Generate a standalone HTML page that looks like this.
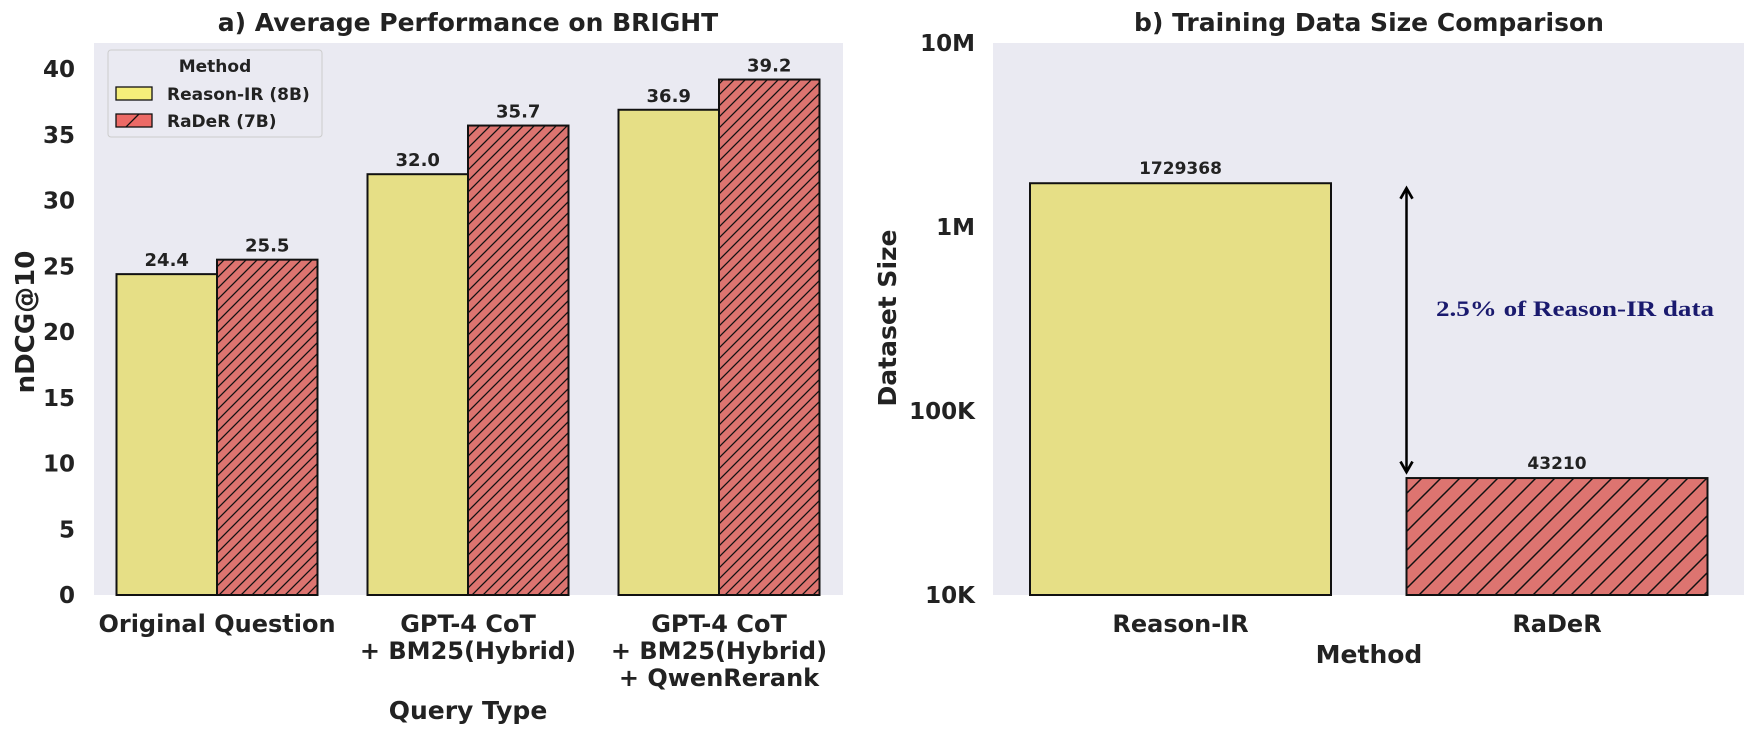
<!DOCTYPE html>
<html><head><meta charset="utf-8"><style>
html,body{margin:0;padding:0;background:#fff;}
svg{display:block;font-family:"DejaVu Sans","Liberation Sans",sans-serif;font-weight:bold;}
</style></head><body>
<svg id="chart" width="1754" height="732" viewBox="0 0 1754 732" xmlns="http://www.w3.org/2000/svg">
<defs>
<pattern id="hatchA" patternUnits="userSpaceOnUse" width="11" height="11"><rect width="11" height="11" fill="#dd7470"/><path d="M-1,12 L12,-1 M-3,3 L3,-3 M8,14 L14,8" stroke="#111" stroke-width="1.3"/></pattern>
<pattern id="hatchB" patternUnits="userSpaceOnUse" width="19" height="19"><rect width="19" height="19" fill="#dd7470"/><path d="M-1,20 L20,-1 M-3,3 L3,-3 M16,22 L22,16" stroke="#111" stroke-width="1.5"/></pattern>
<marker id="arrowHead" viewBox="0 0 10 10" refX="8" refY="5" markerWidth="6" markerHeight="6" orient="auto-start-reverse"><path d="M1,1 L8,5 L1,9" fill="none" stroke="#000" stroke-width="1.8"/></marker>
</defs>
<g id="left"></g>
<g id="right"></g>
</svg>
<script>
const categories = ["Original Question", "GPT-4 CoT|+ BM25(Hybrid)", "GPT-4 CoT|+ BM25(Hybrid)|+ QwenRerank"];
const reasonIR = [24.4, 32.0, 36.9];
const rader = [25.5, 35.7, 39.2];
const yTicksA = [0, 5, 10, 15, 20, 25, 30, 35, 40];
const methodsB = ["Reason-IR", "RaDeR"];
const sizesB = [1729368, 43210];
const yTicksB = [10000, 100000, 1000000, 10000000];
const yTickLabelsB = ["10K", "100K", "1M", "10M"];

const NS = "http://www.w3.org/2000/svg";
function mk(parent, tag, attrs, text){
  const e = document.createElementNS(NS, tag);
  for (const k in attrs) e.setAttribute(k, attrs[k]);
  if (text !== undefined) e.textContent = text;
  parent.appendChild(e);
  return e;
}
const L = document.getElementById('left');
const R = document.getElementById('right');

// ---------- Left panel ----------
const ax = {x0:94, x1:843, y0:43, y1:595};
const yA = v => 595 - v * (595 - 69) / 40;
const xA = i => 217 + i * 251;
let bg = mk(L, 'rect', {x:ax.x0, y:ax.y0, width:ax.x1-ax.x0, height:ax.y1-ax.y0, fill:'#eaeaf2'});


let t = mk(L, 'text', {x:468, y:31, 'text-anchor':'middle', 'font-size':'25', fill:'#222'}, 'a) Average Performance on BRIGHT');


yTicksA.forEach(v => {
  const e = mk(L, 'text', {x:75, y:yA(v)+8, 'text-anchor':'end', 'font-size':'23', fill:'#222'}, String(v));
  
  
});
t = mk(L, 'text', {transform:'translate(34,322) rotate(-90)', 'text-anchor':'middle', 'font-size':'26', fill:'#222'}, 'nDCG@10');


categories.forEach((c, i) => {
  const lines = c.split('|');
  lines.forEach((ln, j) => {
    const e = mk(L, 'text', {x:xA(i), y:632 + j*27, 'text-anchor':'middle', 'font-size':'24', fill:'#222'}, ln);
    
    
  });
});
t = mk(L, 'text', {x:468, y:719, 'text-anchor':'middle', 'font-size':'25', fill:'#222'}, 'Query Type');


const bw = 100.5;
reasonIR.forEach((v, i) => {
  const b = mk(L, 'rect', {x:xA(i)-bw, y:yA(v), width:bw, height:yA(0)-yA(v), fill:'#e6df86', stroke:'#111', 'stroke-width':'2'});
  
  
  const l = mk(L, 'text', {x:xA(i)-bw/2, y:yA(v)-8, 'text-anchor':'middle', 'font-size':'18', fill:'#222'}, v.toFixed(1));
  
  
});
rader.forEach((v, i) => {
  const b = mk(L, 'rect', {x:xA(i), y:yA(v), width:bw, height:yA(0)-yA(v), fill:'url(#hatchA)', stroke:'#111', 'stroke-width':'2'});
  
  
  const l = mk(L, 'text', {x:xA(i)+bw/2, y:yA(v)-8, 'text-anchor':'middle', 'font-size':'18', fill:'#222'}, v.toFixed(1));
  
  
});
// legend
const lg = mk(L, 'g', {});


mk(lg, 'rect', {x:108, y:50, width:214, height:87, rx:3, fill:'#eaeaf2', stroke:'#ccc', 'stroke-width':'1'});
mk(lg, 'text', {x:215, y:72, 'text-anchor':'middle', 'font-size':'17', fill:'#222'}, 'Method');
let le = mk(lg, 'rect', {x:116, y:87, width:36, height:13, fill:'#f5ee7a', stroke:'#111', 'stroke-width':'1.3'});


mk(lg, 'text', {x:167, y:100, 'font-size':'17', fill:'#222'}, 'Reason-IR (8B)');
le = mk(lg, 'rect', {x:116, y:114, width:36, height:13, fill:'#ec6a66', stroke:'#111', 'stroke-width':'1.3'});


mk(lg, 'path', {d:'M126,127 L139,114', stroke:'#111', 'stroke-width':'1.3'});
mk(lg, 'text', {x:167, y:127, 'font-size':'17', fill:'#222'}, 'RaDeR (7B)');

// ---------- Right panel ----------
const yB = v => 43 + (7 - Math.log10(v)) * 184;
const xB = i => 1180.5 + i * 376.5;
bg = mk(R, 'rect', {x:993, y:43, width:751, height:552, fill:'#eaeaf2'});


t = mk(R, 'text', {x:1369, y:31, 'text-anchor':'middle', 'font-size':'25', fill:'#222'}, 'b) Training Data Size Comparison');


yTicksB.forEach((v, i) => {
  const e = mk(R, 'text', {x:975, y:yB(v)+8, 'text-anchor':'end', 'font-size':'23', fill:'#222'}, yTickLabelsB[i]);
  
  
});
t = mk(R, 'text', {transform:'translate(896,318) rotate(-90)', 'text-anchor':'middle', 'font-size':'25', fill:'#222'}, 'Dataset Size');


methodsB.forEach((m, i) => {
  const e = mk(R, 'text', {x:xB(i), y:632, 'text-anchor':'middle', 'font-size':'24', fill:'#222'}, m);
  
  
});
t = mk(R, 'text', {x:1369, y:663, 'text-anchor':'middle', 'font-size':'25', fill:'#222'}, 'Method');


const bwB = 301;
sizesB.forEach((v, i) => {
  const b = mk(R, 'rect', {x:xB(i)-bwB/2, y:yB(v), width:bwB, height:595-yB(v), fill:i===0?'#e6df86':'url(#hatchB)', stroke:'#111', 'stroke-width':'2'});
  
  
  const l = mk(R, 'text', {x:xB(i), y:yB(v)-9, 'text-anchor':'middle', 'font-size':'17', fill:'#222'}, String(v));
  
  
});
const ax2 = xB(1) - bwB/2;
const arr = mk(R, 'line', {x1:ax2, y1:yB(sizesB[0])+5, x2:ax2, y2:yB(sizesB[1])-6, stroke:'#000', 'stroke-width':'2.5', 'marker-start':'url(#arrowHead)', 'marker-end':'url(#arrowHead)'});


const pct = (sizesB[1] / sizesB[0] * 100).toFixed(1);
t = mk(R, 'text', {x:1575, y:316, 'text-anchor':'middle', 'font-size':'22', fill:'#1a1a6e', 'font-family':'"Liberation Serif", serif', textLength:'278', lengthAdjust:'spacingAndGlyphs'}, pct + '% of Reason-IR data');


</script>
</body></html>
